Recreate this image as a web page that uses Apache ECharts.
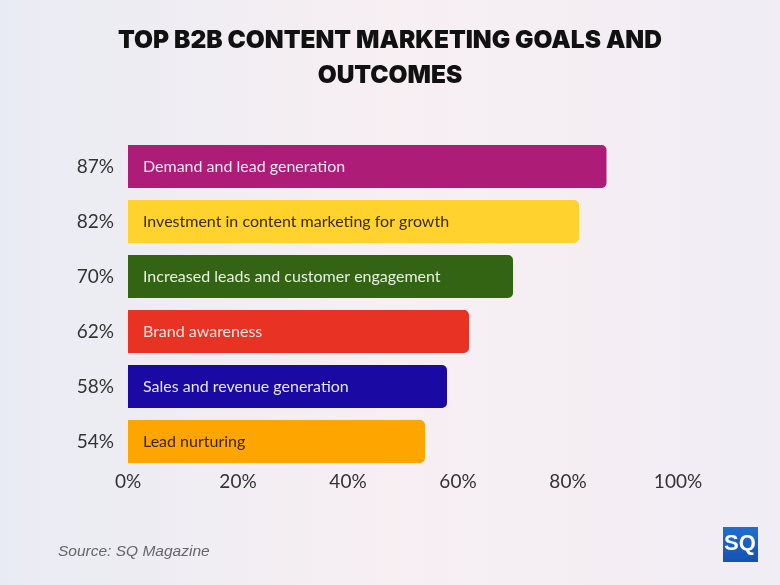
<!DOCTYPE html>
<html>
<head>
<meta charset="utf-8">
<script src="https://cdn.jsdelivr.net/npm/echarts@6/dist/echarts.min.js"></script>
<style>
  html, body { margin: 0; padding: 0; }
  #chart { width: 780px; height: 585px; }
</style>
</head>
<body>
<div id="chart"></div>
<script>
// data, top to bottom
const goals = [
  'Demand and lead generation',
  'Investment in content marketing for growth',
  'Increased leads and customer engagement',
  'Brand awareness',
  'Sales and revenue generation',
  'Lead nurturing'
];
const shares = [87, 82, 70, 62, 58, 54];
const barColors = ['#AD1D78', '#FFD22E', '#336414', '#E83223', '#1A0AA3', '#FFA500'];
const labelColors = ['#f4e6ef', '#3a2c05', '#e8f0e0', '#fbe4e0', '#e6e4f8', '#3a2605'];
const xTicks = [0, 20, 40, 60, 80, 100];

const chart = echarts.init(document.getElementById('chart'));

// echarts draws category axis bottom-up, so reverse
const cats = goals.slice().reverse();
const vals = shares.slice().reverse();
const cols = barColors.slice().reverse();
const lcols = labelColors.slice().reverse();

chart.setOption({
  backgroundColor: new echarts.graphic.LinearGradient(0, 0, 1, 0, [
    { offset: 0, color: '#e9ebf4' },
    { offset: 0.5, color: '#f7eff2' },
    { offset: 1, color: '#f1edf5' }
  ]),
  title: {
    text: 'TOP B2B CONTENT MARKETING GOALS AND\nOUTCOMES',
    left: 'center',
    top: 18,
    textStyle: {
      fontFamily: 'Inter',
      fontWeight: 900,
      fontSize: 24.5,
      lineHeight: 35,
      color: '#111'
    }
  },
  grid: { left: 128, right: 102, top: 139, height: 330 },
  xAxis: {
    type: 'value',
    min: xTicks[0],
    max: xTicks[xTicks.length - 1],
    interval: 20,
    splitLine: { show: false },
    axisLine: { show: false },
    axisTick: { show: false },
    axisLabel: {
      formatter: '{value}%',
      fontFamily: 'Lato',
      fontSize: 19,
      color: '#333',
      margin: 3
    }
  },
  yAxis: {
    type: 'category',
    data: cats,
    axisLine: { show: false },
    axisTick: { show: false },
    axisLabel: {
      formatter: (v, i) => vals[i] + '%',
      fontFamily: 'Lato',
      fontSize: 19,
      color: '#333',
      margin: 14
    }
  },
  series: [{
    type: 'bar',
    barWidth: '78%',
    data: vals.map((v, i) => ({
      value: v,
      itemStyle: { color: cols[i], borderRadius: [0, 5, 5, 0] },
      label: { color: lcols[i] }
    })),
    label: {
      show: true,
      position: 'insideLeft',
      offset: [10, 0],
      formatter: p => cats[p.dataIndex],
      fontFamily: 'Lato',
      fontSize: 16
    }
  }],
  graphic: [
    {
      type: 'text',
      left: 58,
      top: 544,
      style: {
        text: 'Source: SQ Magazine',
        font: 'italic 15.5px "Liberation Sans"',
        fill: '#666'
      }
    },
    {
      type: 'rect',
      left: 723,
      top: 527,
      shape: { width: 35, height: 35 },
      style: {
        fill: new echarts.graphic.LinearGradient(0, 0, 0, 1, [
          { offset: 0, color: '#1f6fd0' },
          { offset: 1, color: '#1552b0' }
        ])
      }
    },
    {
      type: 'text',
      left: 724,
      top: 533,
      style: {
        text: 'SQ',
        font: 'bold 22px "Liberation Sans"',
        fill: '#fff'
      }
    }
  ]
});
</script>
</body>
</html>
